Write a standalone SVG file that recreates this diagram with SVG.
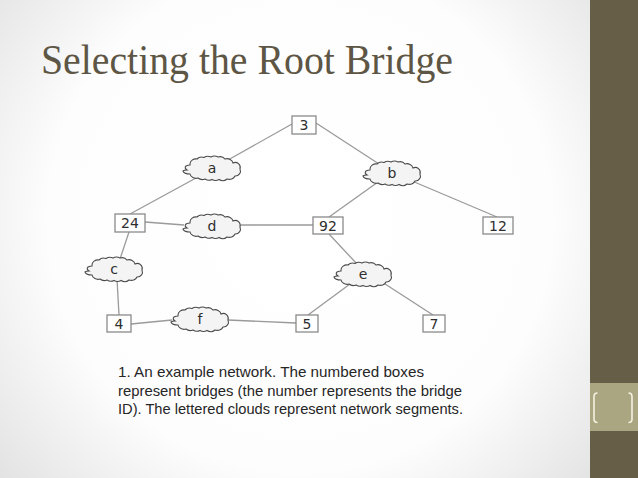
<svg xmlns="http://www.w3.org/2000/svg" width="638" height="478" viewBox="0 0 638 478">
<defs>
<radialGradient id="bg" cx="300" cy="220" r="420" gradientUnits="userSpaceOnUse">
<stop offset="0" stop-color="#ffffff"/>
<stop offset="0.6" stop-color="#fdfdfd"/>
<stop offset="1" stop-color="#dedede"/>
</radialGradient>
<path id="cloud" d="M -22,-4 a 6,5 0 0 1 7,-5 a 6,5 0 0 1 7,-1.5 a 6,5 0 0 1 7,-0.5 a 6,5 0 0 1 7,0 a 6,5 0 0 1 7,2 a 6,5 0 0 1 8,4 a 5,5 0 0 1 7,6 a 5,5 0 0 1 -5,7 a 6,5 0 0 1 -8,3 a 6,5 0 0 1 -8,0.5 a 6,5 0 0 1 -7,0 a 6,5 0 0 1 -7,-0.5 a 6,5 0 0 1 -7,-1 a 6,5 0 0 1 -8,-4 q -6,0 -7,-3 q 1,-1 4,-1 q -3,-2 -1,-4 q 2,-1 4,-1 z"/>
</defs>
<style>
.box{fill:#ffffff;stroke:#8a8a8a;stroke-width:1.3}
.cl{fill:#f4f4f4;stroke:#4a4a4a;stroke-width:1.1}
.lbl{font-family:"DejaVu Sans",sans-serif;font-size:14px;fill:#2e2e2e;text-anchor:middle}
.edge{stroke:#9a9a9a;stroke-width:1.3;fill:none}
.cap{font-family:"Liberation Sans",Arial,sans-serif;font-size:14.8px;fill:#262626}
</style>
<rect x="0" y="0" width="638" height="478" fill="url(#bg)"/>
<rect x="590" y="0" width="48" height="478" fill="#675e47"/>
<rect x="590" y="383" width="48" height="48" fill="#a9a681"/>
<path d="M 597.5,393 q -3.5,0 -3.5,3.5 v 22.5 q 0,3.5 3.5,3.5" fill="none" stroke="#f4f1e2" stroke-width="1.6"/>
<path d="M 628.5,393 q 3.5,0 3.5,3.5 v 22.5 q 0,3.5 -3.5,3.5" fill="none" stroke="#f4f1e2" stroke-width="1.6"/>
<text x="41" y="74" font-family="Liberation Serif,'Times New Roman',serif" font-size="42" fill="#5e5645" textLength="412" lengthAdjust="spacingAndGlyphs">Selecting the Root Bridge</text>
<g id="connectors">
<line class="edge" x1="292" y1="124" x2="228" y2="160"/>
<line class="edge" x1="196" y1="178" x2="130" y2="214"/>
<line class="edge" x1="316" y1="123" x2="379" y2="164"/>
<line class="edge" x1="378" y1="182" x2="329" y2="217"/>
<line class="edge" x1="412" y1="181" x2="497" y2="217"/>
<line class="edge" x1="145" y1="222" x2="184" y2="225"/>
<line class="edge" x1="241" y1="225" x2="313" y2="225"/>
<line class="edge" x1="129" y1="232" x2="120" y2="259"/>
<line class="edge" x1="117" y1="279" x2="119" y2="315"/>
<line class="edge" x1="131" y1="324" x2="172" y2="320"/>
<line class="edge" x1="228" y1="320" x2="296" y2="323"/>
<line class="edge" x1="329" y1="234" x2="357" y2="264"/>
<line class="edge" x1="350" y1="284" x2="308" y2="315"/>
<line class="edge" x1="382" y1="282" x2="433" y2="315"/>
</g>
<g id="bridge-3"><rect class="box" x="292" y="116" width="24" height="18"/><text class="lbl" x="304" y="130">3</text></g>
<g id="bridge-24"><rect class="box" x="115" y="214" width="30" height="18"/><text class="lbl" x="130" y="228">24</text></g>
<g id="bridge-92"><rect class="box" x="313" y="217" width="30" height="17"/><text class="lbl" x="328" y="230.5">92</text></g>
<g id="bridge-12"><rect class="box" x="483" y="217" width="30" height="17"/><text class="lbl" x="498" y="230.5">12</text></g>
<g id="bridge-4"><rect class="box" x="107" y="315" width="24" height="17"/><text class="lbl" x="119" y="328.5">4</text></g>
<g id="bridge-5"><rect class="box" x="296" y="315" width="22" height="17"/><text class="lbl" x="307" y="328.5">5</text></g>
<g id="bridge-7"><rect class="box" x="423" y="315" width="22" height="17"/><text class="lbl" x="434" y="328.5">7</text></g>
<g id="seg-a"><use href="#cloud" class="cl" x="212" y="168"/><text class="lbl" x="212" y="173">a</text></g>
<g id="seg-d"><use href="#cloud" class="cl" x="212" y="226"/><text class="lbl" x="212" y="231">d</text></g>
<g id="seg-b"><use href="#cloud" class="cl" x="392" y="173"/><text class="lbl" x="392" y="178">b</text></g>
<g id="seg-c"><use href="#cloud" class="cl" x="114" y="269"/><text class="lbl" x="114" y="274">c</text></g>
<g id="seg-f"><use href="#cloud" class="cl" x="200" y="319"/><text class="lbl" x="200" y="324">f</text></g>
<g id="seg-e"><use href="#cloud" class="cl" x="363" y="274"/><text class="lbl" x="363" y="279">e</text></g>
<text class="cap" x="118" y="377" textLength="306" lengthAdjust="spacingAndGlyphs">1. An example network. The numbered boxes</text>
<text class="cap" x="118" y="395.5" textLength="344" lengthAdjust="spacingAndGlyphs">represent bridges (the number represents the bridge</text>
<text class="cap" x="118" y="414" textLength="345" lengthAdjust="spacingAndGlyphs">ID). The lettered clouds represent network segments.</text>
</svg>
